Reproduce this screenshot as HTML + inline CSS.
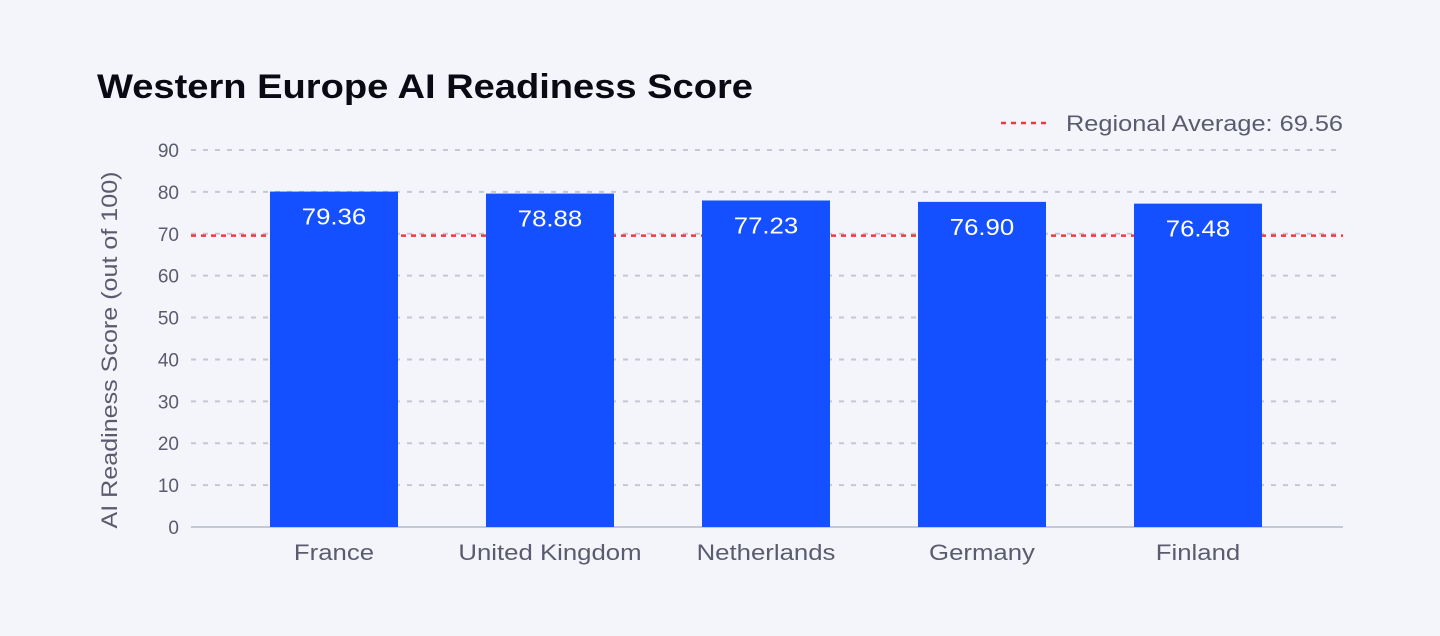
<!DOCTYPE html>
<html><head><meta charset="utf-8"><style>
html,body{margin:0;padding:0;background:#f4f5fa;}
svg{display:block;font-family:"Liberation Sans",sans-serif;}
</style></head><body>
<svg id="chart" width="1440" height="636">
<rect width="1440" height="636" fill="#f4f5fa"/>
<text x="97" y="98" font-size="34" font-weight="bold" fill="#0a0a14" textLength="656" lengthAdjust="spacingAndGlyphs">Western Europe AI Readiness Score</text>
<g>
<line x1="1001" y1="123" x2="1050" y2="123" stroke="#f03a3a" stroke-width="2.5" stroke-dasharray="5,5"/>
<text x="1066" y="131" font-size="22" fill="#5a5b6e" textLength="277" lengthAdjust="spacingAndGlyphs">Regional Average: 69.56</text>
</g>
<text transform="translate(117,350) rotate(-90)" font-size="22" fill="#5a5b6e" text-anchor="middle" textLength="357" lengthAdjust="spacingAndGlyphs">AI Readiness Score (out of 100)</text>
<g id="grid"></g><g id="bars"></g><g id="labels"></g>
</svg>
<script>
const categories=["France","United Kingdom","Netherlands","Germany","Finland"];
const values=[79.36,78.88,77.23,76.90,76.48];
const yTicks=[0,10,20,30,40,50,60,70,80,90];
const average=[69.56];
const NS="http://www.w3.org/2000/svg";
const x0=191,x1=1343,yBase=527,yTop=150,yMax=90;
function y(v){return yBase-(v/yMax)*(yBase-yTop);}
function xc(i){return 334+216*i;}
function mk(t,a,p){const e=document.createElementNS(NS,t);for(const k in a)e.setAttribute(k,a[k]);p.appendChild(e);return e;}
function widen(el,f){const w=el.getComputedTextLength();el.setAttribute('textLength',w*f);el.setAttribute('lengthAdjust','spacingAndGlyphs');}
const grid=document.getElementById('grid'),bars=document.getElementById('bars'),labels=document.getElementById('labels');
yTicks.forEach(t=>{
 if(t>0){const l=mk('line',{x1:x0,x2:x1,y1:y(t),y2:y(t),stroke:'#c4c8d4','stroke-width':2,'stroke-dasharray':'5,7'},grid);
 
 }
 const tx=mk('text',{x:179,y:y(t)+7,'font-size':19,fill:'#5a5b6e','text-anchor':'end'},grid);
 tx.textContent=t;
 
 
});
const ax=mk('line',{x1:x0,x2:x1,y1:yBase,y2:yBase,stroke:'#c4c8d4','stroke-width':2},grid);


const al=mk('line',{x1:x0,x2:x1,y1:y(average[0]),y2:y(average[0]),stroke:'#f03a3a','stroke-width':2.5,'stroke-dasharray':'5,5'},grid);


values.forEach((v,i)=>{
 const r=mk('rect',{x:xc(i)-64,y:y(v)-3,width:128,height:yBase-y(v)+3,fill:'#1450ff'},bars);
 
 
 const vt=mk('text',{x:xc(i),y:y(v)+30,'font-size':23,fill:'#fff','text-anchor':'middle'},labels);
 vt.textContent=v.toFixed(2);
 
 
 widen(vt,1.12);
 const ct=mk('text',{x:xc(i),y:560,'font-size':22,fill:'#5a5b6e','text-anchor':'middle'},labels);
 ct.textContent=categories[i];
 
 
 widen(ct,1.17);
});
</script>
</body></html>
